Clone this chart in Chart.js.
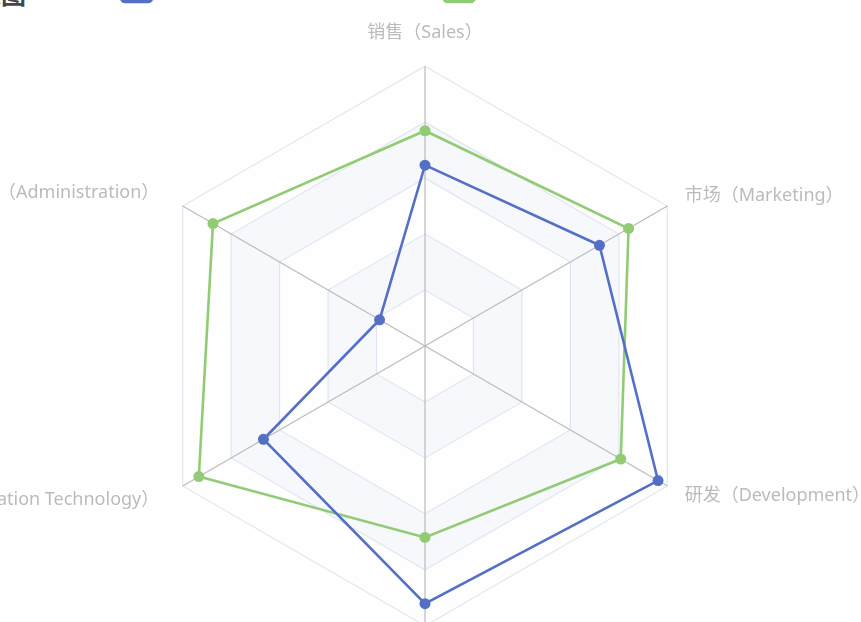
<!DOCTYPE html>
<html>
<head>
<meta charset="utf-8">
<script src="https://cdn.jsdelivr.net/npm/chart.js"></script>
<style>
  html, body { margin: 0; padding: 0; background: #fff; overflow: hidden; width: 861px; height: 622px; }
  #title { position: absolute; left: -99px; top: -19px; font: bold 25px/25px "Noto Sans CJK SC", sans-serif; color: #464646; white-space: nowrap; }
  #wrap { position: absolute; left: -225px; top: -54px; width: 1300px; height: 713px; }
</style>
</head>
<body>
<div id="title">基础雷达图</div>
<div id="wrap"><canvas id="radar"></canvas></div>
<script>
// indicators, clockwise from the top (Chart.js order)
const indicators = ['销售（Sales）', '市场（Marketing）', '研发（Development）', '客服（Customer Support）', '信息技术（Information Technology）', '管理（Administration）']
const indicatorMax = [6500, 25000, 52000, 38000, 30000, 16000]
const allocatedBudget = [4200, 18000, 50000, 35000, 20000, 3000]
const actualSpending = [5000, 21000, 42000, 26000, 28000, 14000]
const seriesNames = ['预算分配（Allocated Budget）', '实际开销（Actual Spending）']

const FONT = '"Noto Sans", "Noto Sans CJK SC", sans-serif'
const BLUE = '#5470c6'
const GREEN = '#91cc75'

// each axis has its own max, so put everything on a 0..1 radius
const toRatio = (values) => values.map((v, i) => v / indicatorMax[i])

// alternating split areas between the rings, like the original
const splitArea = {
  id: 'splitArea',
  beforeDraw(chart) {
    const r = chart.scales.r
    const ctx = chart.ctx
    const n = indicators.length
    const ticks = r.ticks.map(t => t.value)
    const colors = ['rgba(250,250,250,0.2)', 'rgba(210,219,238,0.2)']
    ctx.save()
    for (let k = 1; k < ticks.length; k++) {
      const outer = r.getDistanceFromCenterForValue(ticks[k])
      const inner = r.getDistanceFromCenterForValue(ticks[k - 1])
      ctx.beginPath()
      for (let i = 0; i < n; i++) {
        const p = r.getPointPosition(i, outer)
        i ? ctx.lineTo(p.x, p.y) : ctx.moveTo(p.x, p.y)
      }
      ctx.closePath()
      if (inner > 0) {
        for (let i = 0; i < n; i++) {
          const p = r.getPointPosition(i, inner)
          i ? ctx.lineTo(p.x, p.y) : ctx.moveTo(p.x, p.y)
        }
        ctx.closePath()
      }
      ctx.fillStyle = colors[(k - 1) % 2]
      ctx.fill('evenodd')
    }
    ctx.restore()
  }
}

new Chart(document.getElementById('radar'), {
  type: 'radar',
  data: {
    labels: indicators,
    datasets: [
      {
        label: seriesNames[0],
        data: toRatio(allocatedBudget),
        borderColor: BLUE,
        backgroundColor: BLUE,
        pointBackgroundColor: BLUE,
        borderWidth: 2.6,
        pointRadius: 5.5,
        pointBorderWidth: 0,
        fill: false
      },
      {
        label: seriesNames[1],
        data: toRatio(actualSpending),
        borderColor: GREEN,
        backgroundColor: GREEN,
        pointBackgroundColor: GREEN,
        borderWidth: 2.6,
        pointRadius: 5.5,
        pointBorderWidth: 0,
        fill: false
      }
    ]
  },
  options: {
    responsive: true,
    maintainAspectRatio: false,
    animation: false,
    layout: { padding: 0 },
    scales: {
      r: {
        min: 0,
        max: 1,
        ticks: { display: false, stepSize: 0.2 },
        grid: { color: '#e0e6f1', lineWidth: 1.2 },
        angleLines: { color: '#bbbbbb', lineWidth: 1.2 },
        pointLabels: {
          color: '#bbbbbb',
          font: { family: FONT, size: 18, lineHeight: 0.01 },
          padding: (c) => (c.index === 0 || c.index === 3) ? 33 : (c.index > 3 ? 27 : 20)
        }
      }
    },
    plugins: {
      legend: {
        position: 'top',
        labels: {
          boxWidth: 31,
          boxHeight: 26,
          padding: 30,
          useBorderRadius: true,
          borderRadius: 4,
          color: '#333',
          font: { family: FONT, size: 18 }
        }
      },
      // empty gap between the legend row and the radar
      subtitle: {
        display: true,
        text: '',
        weight: 500,
        font: { size: 10, lineHeight: 1 },
        padding: { top: 0, bottom: 11 }
      },
      tooltip: { enabled: false }
    }
  },
  plugins: [splitArea]
})
</script>
</body>
</html>
